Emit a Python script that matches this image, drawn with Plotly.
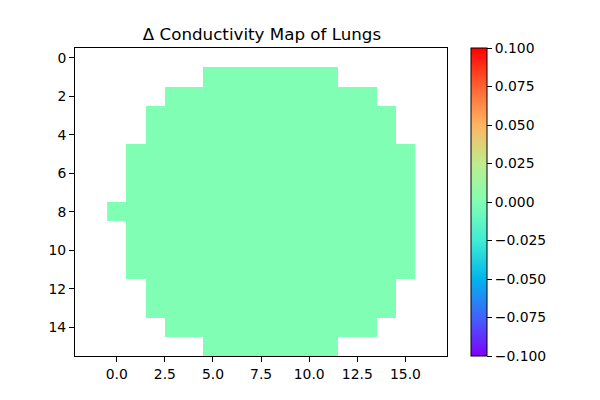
import plotly.graph_objects as go

#Delta conductivity per pixel, None is outside of the lungs
_ = None
conductivity = [
    [_, _, _, _, _, _, _, _, _, _, _, _, _, _, _, _],
    [_, _, _, _, _, 0, 0, 0, 0, 0, 0, 0, _, _, _, _],
    [_, _, _, 0, 0, 0, 0, 0, 0, 0, 0, 0, 0, 0, _, _],
    [_, _, 0, 0, 0, 0, 0, 0, 0, 0, 0, 0, 0, 0, 0, _],
    [_, _, 0, 0, 0, 0, 0, 0, 0, 0, 0, 0, 0, 0, 0, _],
    [_, 0, 0, 0, 0, 0, 0, 0, 0, 0, 0, 0, 0, 0, 0, 0],
    [_, 0, 0, 0, 0, 0, 0, 0, 0, 0, 0, 0, 0, 0, 0, 0],
    [_, 0, 0, 0, 0, 0, 0, 0, 0, 0, 0, 0, 0, 0, 0, 0],
    [0, 0, 0, 0, 0, 0, 0, 0, 0, 0, 0, 0, 0, 0, 0, 0],
    [_, 0, 0, 0, 0, 0, 0, 0, 0, 0, 0, 0, 0, 0, 0, 0],
    [_, 0, 0, 0, 0, 0, 0, 0, 0, 0, 0, 0, 0, 0, 0, 0],
    [_, 0, 0, 0, 0, 0, 0, 0, 0, 0, 0, 0, 0, 0, 0, 0],
    [_, _, 0, 0, 0, 0, 0, 0, 0, 0, 0, 0, 0, 0, 0, _],
    [_, _, 0, 0, 0, 0, 0, 0, 0, 0, 0, 0, 0, 0, 0, _],
    [_, _, _, 0, 0, 0, 0, 0, 0, 0, 0, 0, 0, 0, _, _],
    [_, _, _, _, _, 0, 0, 0, 0, 0, 0, 0, _, _, _, _],
]

x_ticks = [0, 2.5, 5, 7.5, 10, 12.5, 15]
x_labels = ["0.0", "2.5", "5.0", "7.5", "10.0", "12.5", "15.0"]
y_ticks = [0, 2, 4, 6, 8, 10, 12, 14]
cbar_ticks = [-0.1, -0.075, -0.05, -0.025, 0, 0.025, 0.05, 0.075, 0.1]

#matplotlib rainbow colormap
rainbow = [
    [0.0, "rgb(128,0,255)"],
    [0.125, "rgb(64,98,251)"],
    [0.25, "rgb(0,181,236)"],
    [0.375, "rgb(64,236,212)"],
    [0.5, "rgb(128,255,180)"],
    [0.625, "rgb(191,236,142)"],
    [0.75, "rgb(255,181,98)"],
    [0.875, "rgb(255,98,50)"],
    [1.0, "rgb(255,0,0)"],
]

W, H = 600, 400
#the page puts 8px of body margin around the figure
PAGE = 8
font = dict(family="DejaVu Sans", size=13.9, color="black")

axis = dict(
    showgrid=False, zeroline=False, showline=True, linecolor="black", linewidth=1,
    mirror=True, ticks="outside", ticklen=5, tickwidth=1, tickcolor="black",
)

fig = go.Figure(go.Heatmap(
    z=conductivity,
    zmin=-0.1,
    zmax=0.1,
    colorscale=rainbow,
    hoverongaps=False,
    colorbar=dict(
        x=(470.5 - 75) / 372, xanchor="left", xref="paper",
        y=0.5, yanchor="middle",
        thickness=16,
        thicknessmode="pixels",
        len=1.0,
        lenmode="fraction",
        tickmode="array",
        tickvals=cbar_ticks,
        ticktext=["\u2212%.3f" % abs(v) if v < 0 else "%.3f" % v for v in cbar_ticks],
        ticks="outside",
        ticklen=5,
        tickcolor="black",
        outlinewidth=1,
        outlinecolor="black",
        tickfont=font,
        xpad=0,
        ypad=0,
    ),
))

fig.update_layout(
    width=W,
    height=H,
    autosize=False,
    margin=dict(l=75 - PAGE, r=W - 447 + PAGE, t=48 - PAGE, b=H - 356 + PAGE, pad=0),
    paper_bgcolor="white",
    plot_bgcolor="white",
    font=font,
    title=dict(
        text="\u0394 Conductivity Map of Lungs",
        x=(262 - PAGE) / W, xanchor="center",
        y=1 - (34 - PAGE) / H, yanchor="middle",
        font=dict(family="DejaVu Sans", size=16.7, color="black"),
    ),
    xaxis=dict(axis, range=[-2.17, 17.16], tickmode="array", tickvals=x_ticks, ticktext=x_labels),
    yaxis=dict(axis, range=[15.5, -0.5], tickmode="array", tickvals=y_ticks),
)

fig.write_html("out.html")
